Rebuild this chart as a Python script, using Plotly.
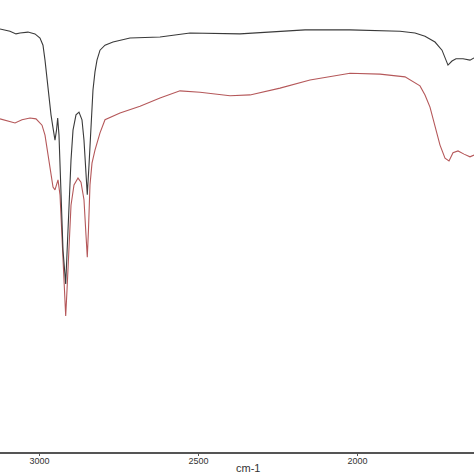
import plotly.graph_objects as go

# Black spectrum (wavenumber cm-1, transmittance %)
black_wn = [3124.2, 3092.8, 3073.9, 3061.3, 3036.2, 3014.2, 2998.4, 2989.0, 2982.7, 2976.4,
            2970.1, 2963.8, 2957.5, 2951.3, 2946.5, 2942.8, 2938.7, 2932.4, 2926.1, 2917.6,
            2913.5, 2907.2, 2900.9, 2894.6, 2885.2, 2875.8, 2866.4, 2860.1, 2853.8, 2849.7,
            2844.3, 2838.0, 2831.8, 2825.5, 2819.2, 2809.7, 2794.0, 2768.9, 2715.4, 2621.0,
            2526.7, 2369.5, 2212.2, 2165.0, 2055.0, 2023.6, 1866.3, 1819.1, 1787.7, 1756.2,
            1734.2, 1724.8, 1715.4, 1702.8, 1690.2, 1668.2, 1646.2, 1633.6]
black_t = [93.6, 93.1, 92.5, 92.7, 92.9, 92.5, 91.6, 90.0, 86.7, 82.3,
           77.9, 74.6, 71.7, 69.0, 71.2, 73.9, 70.1, 58.0, 44.7, 37.2,
           43.6, 55.8, 64.6, 71.2, 74.6, 75.2, 73.5, 69.0, 61.3, 56.9,
           63.5, 73.5, 80.1, 84.1, 86.7, 88.9, 90.0, 90.7, 91.6, 91.8,
           92.7, 92.5, 93.1, 93.4, 93.4, 93.4, 93.1, 92.7, 92.0, 90.7,
           88.9, 87.4, 85.6, 86.5, 87.0, 87.0, 86.7, 87.2]

# Red spectrum
red_wn = [3124.2, 3099.1, 3077.0, 3055.0, 3029.9, 3011.0, 2992.1, 2982.7, 2973.3, 2963.8,
          2957.5, 2951.3, 2946.5, 2941.8, 2935.5, 2929.2, 2922.9, 2917.6, 2913.5, 2907.2,
          2900.9, 2891.5, 2878.9, 2869.5, 2860.1, 2853.8, 2849.7, 2846.0, 2841.2, 2834.9,
          2825.5, 2809.7, 2794.0, 2746.8, 2683.9, 2621.0, 2558.1, 2495.2, 2400.9, 2338.0,
          2243.6, 2149.3, 2086.4, 2023.6, 1929.2, 1850.6, 1803.4, 1787.7, 1772.0, 1756.2,
          1740.5, 1724.8, 1712.2, 1699.6, 1683.9, 1665.0, 1646.2, 1633.6]
red_t = [73.7, 73.2, 72.8, 73.5, 73.9, 73.7, 72.3, 70.1, 65.7, 60.6,
         58.6, 58.0, 59.3, 60.2, 56.9, 46.9, 35.8, 30.1, 35.8, 46.9,
         54.6, 59.1, 60.6, 59.7, 55.8, 48.0, 43.1, 49.1, 59.1, 63.9,
         66.8, 70.6, 73.5, 75.0, 76.5, 78.3, 79.9, 79.6, 78.8, 79.0,
         80.5, 82.3, 83.0, 83.8, 83.6, 83.0, 81.0, 79.0, 76.3, 72.3,
         67.9, 65.0, 64.4, 66.2, 66.6, 65.9, 65.3, 65.7]

tick_vals = [3000, 2500, 2000]
tick_text = ["3000", "2500", "2000"]
x_range = [3124.2, 1633.6]
x_title = "cm-1"

fig = go.Figure()
fig.add_trace(go.Scatter(x=red_wn, y=red_t, mode="lines",
                         line=dict(color="#b5585a", width=1.1), showlegend=False))
fig.add_trace(go.Scatter(x=black_wn, y=black_t, mode="lines",
                         line=dict(color="#3a3a3a", width=1.1), showlegend=False))

fig.update_layout(
    width=474, height=474,
    margin=dict(l=0, r=0, t=0, b=22, pad=0),
    paper_bgcolor="white", plot_bgcolor="white",
    font=dict(family="Liberation Sans, Arial, sans-serif", color="#333333"),
    xaxis=dict(range=x_range, tickvals=tick_vals, ticktext=tick_text,
               showgrid=False, zeroline=False, showline=True, linecolor="#555555",
               linewidth=1.5, ticks="outside", ticklen=2, tickcolor="#555555",
               tickfont=dict(size=9, color="#333333"), ticklabelstandoff=-3,
               automargin=False),
    yaxis=dict(range=[0, 100], visible=False, showgrid=False, zeroline=False),
    annotations=[dict(text=x_title, xref="paper", yref="paper", x=0.523, y=0,
                      xanchor="center", yanchor="middle", yshift=-16, borderpad=0,
                      showarrow=False, font=dict(size=11, color="#333333"))],
)

fig.write_html("out.html", config={"displayModeBar": False},
               post_script="document.body.style.margin='0';document.body.style.padding='0';")
